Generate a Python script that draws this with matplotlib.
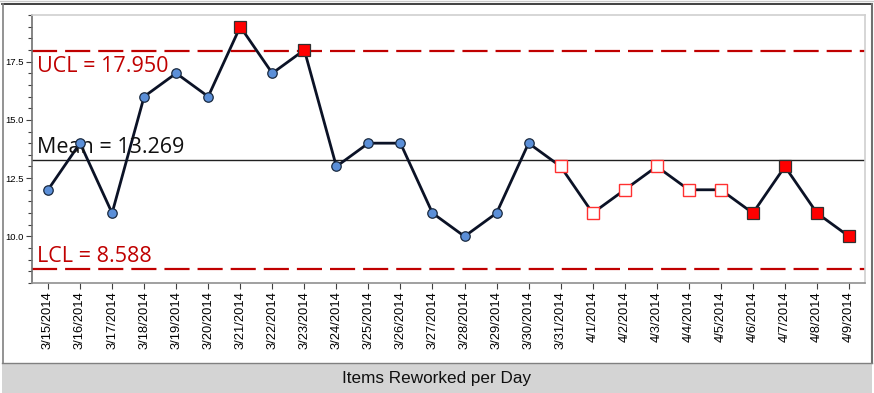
import matplotlib
matplotlib.use("Agg")
import matplotlib.pyplot as plt
from matplotlib.patches import Rectangle
from matplotlib.lines import Line2D
from matplotlib.ticker import MultipleLocator

dates = ['3/15/2014', '3/16/2014', '3/17/2014', '3/18/2014', '3/19/2014', '3/20/2014',
         '3/21/2014', '3/22/2014', '3/23/2014', '3/24/2014', '3/25/2014', '3/26/2014',
         '3/27/2014', '3/28/2014', '3/29/2014', '3/30/2014', '3/31/2014', '4/1/2014',
         '4/2/2014', '4/3/2014', '4/4/2014', '4/5/2014', '4/6/2014', '4/7/2014',
         '4/8/2014', '4/9/2014']
values = [12, 14, 11, 16, 17, 16, 19, 17, 18, 13, 14, 14, 11, 10, 11, 14,
          13, 11, 12, 13, 12, 12, 11, 13, 11, 10]
# c = in control (circle), R = out-of-control rule (filled red square), O = open red square
status = ['c', 'c', 'c', 'c', 'c', 'c', 'R', 'c', 'R', 'c', 'c', 'c', 'c', 'c', 'c', 'c',
          'O', 'O', 'O', 'O', 'O', 'O', 'R', 'R', 'R', 'R']
ucl = 17.950
mean = 13.269
lcl = 8.588
title = 'Items Reworked per Day'

W, H = 874, 393
fig = plt.figure(figsize=(W / 100, H / 100), dpi=100)
fig.patch.set_facecolor('white')

# bottom gray band
fig.patches.append(Rectangle((2 / W, 0), 870 / W, 30 / H, transform=fig.transFigure,
                             facecolor='#d4d4d4', edgecolor='none', zorder=0))
# outer frame
fig.lines.append(Line2D([2 / W, 872 / W], [1 - 4 / H, 1 - 4 / H], transform=fig.transFigure,
                        color='#202020', lw=1.2))
fig.lines.append(Line2D([2.5 / W, 2.5 / W], [1 - 4 / H, 1 - 363 / H], transform=fig.transFigure,
                        color='#808080', lw=1.2))
fig.lines.append(Line2D([871.5 / W, 871.5 / W], [1 - 4 / H, 1 - 363 / H], transform=fig.transFigure,
                        color='#707070', lw=1.5))
fig.lines.append(Line2D([2 / W, 872 / W], [1 - 363 / H, 1 - 363 / H], transform=fig.transFigure,
                        color='#808080', lw=1.0))
fig.lines.append(Line2D([0, 1], [1 - 0.5 / H, 1 - 0.5 / H], transform=fig.transFigure,
                        color='#c8c8c8', lw=1.0))

ax = fig.add_axes([32 / W, 1 - 283 / H, (865 - 32) / W, (283 - 15) / H])
x = list(range(len(values)))

ax.axhline(ucl, color='#c00000', lw=1.6, dashes=(11.3, 3.6), zorder=2)
ax.axhline(lcl, color='#c00000', lw=1.6, dashes=(11.3, 3.6), zorder=2)
ax.axhline(mean, color='#202020', lw=1.0, zorder=2)

ax.plot(x, values, color='#0b1226', lw=2.0, zorder=3)
for xi, v, s in zip(x, values, status):
    if s == 'c':
        ax.plot(xi, v, 'o', ms=6.8, mfc='#5b8fd8', mec='#1a2a40', mew=0.9, zorder=4)
    elif s == 'R':
        ax.plot(xi, v, 's', ms=8.3, mfc='#ff0000', mec='#303030', mew=0.9, zorder=4)
    else:
        ax.plot(xi, v, 's', ms=8.3, mfc='white', mec='#ff3030', mew=1.0, zorder=4)

tfam = ['Open Sans', 'DejaVu Sans']
fs = 15.5
ax.text(0.0, ucl - 0.22, 'UCL = 17.950', color='#c00000', fontsize=fs, family=tfam,
        transform=ax.get_yaxis_transform(), ha='left', va='top')
ax.text(0.0, mean + 0.1, 'Mean = 13.269', color='#101010', fontsize=fs, family=tfam,
        transform=ax.get_yaxis_transform(), ha='left', va='bottom')
ax.text(0.0, lcl + 0.1, 'LCL = 8.588', color='#c00000', fontsize=fs, family=tfam,
        transform=ax.get_yaxis_transform(), ha='left', va='bottom')
for t in ax.texts:
    t.set_x(5 / (865 - 32))

ax.set_xlim(-0.5, len(values) - 0.5)
ax.set_ylim(8.0, 19.5)
ax.set_xticks(x)
ax.set_xticklabels(dates, rotation=90, fontsize=9.3, family=['Liberation Sans', 'DejaVu Sans'])
ax.yaxis.set_major_locator(MultipleLocator(2.5))
ax.yaxis.set_minor_locator(MultipleLocator(0.5))
ax.yaxis.set_major_formatter(matplotlib.ticker.FormatStrFormatter('%.1f'))
for lab in ax.get_yticklabels():
    lab.set_fontsize(6.8)
    lab.set_family(['Liberation Sans', 'DejaVu Sans'])
ax.tick_params(axis='both', which='major', direction='out', length=4, width=0.8,
               color='#404040', pad=2)
ax.tick_params(axis='y', which='minor', direction='out', length=3, width=0.8, color='#404040')

ax.spines['left'].set_color('#707070')
ax.spines['bottom'].set_color('#909090')
ax.spines['top'].set_color('#d0d0d0')
ax.spines['right'].set_color('#d0d0d0')
for sp in ax.spines.values():
    sp.set_linewidth(1.2)

fig.text(437 / W, 1 - 378 / H, title, ha='center', va='center', fontsize=12.3,
         family=['Liberation Sans', 'DejaVu Sans'], color='#101010')

fig.savefig('out.png', dpi=100)
